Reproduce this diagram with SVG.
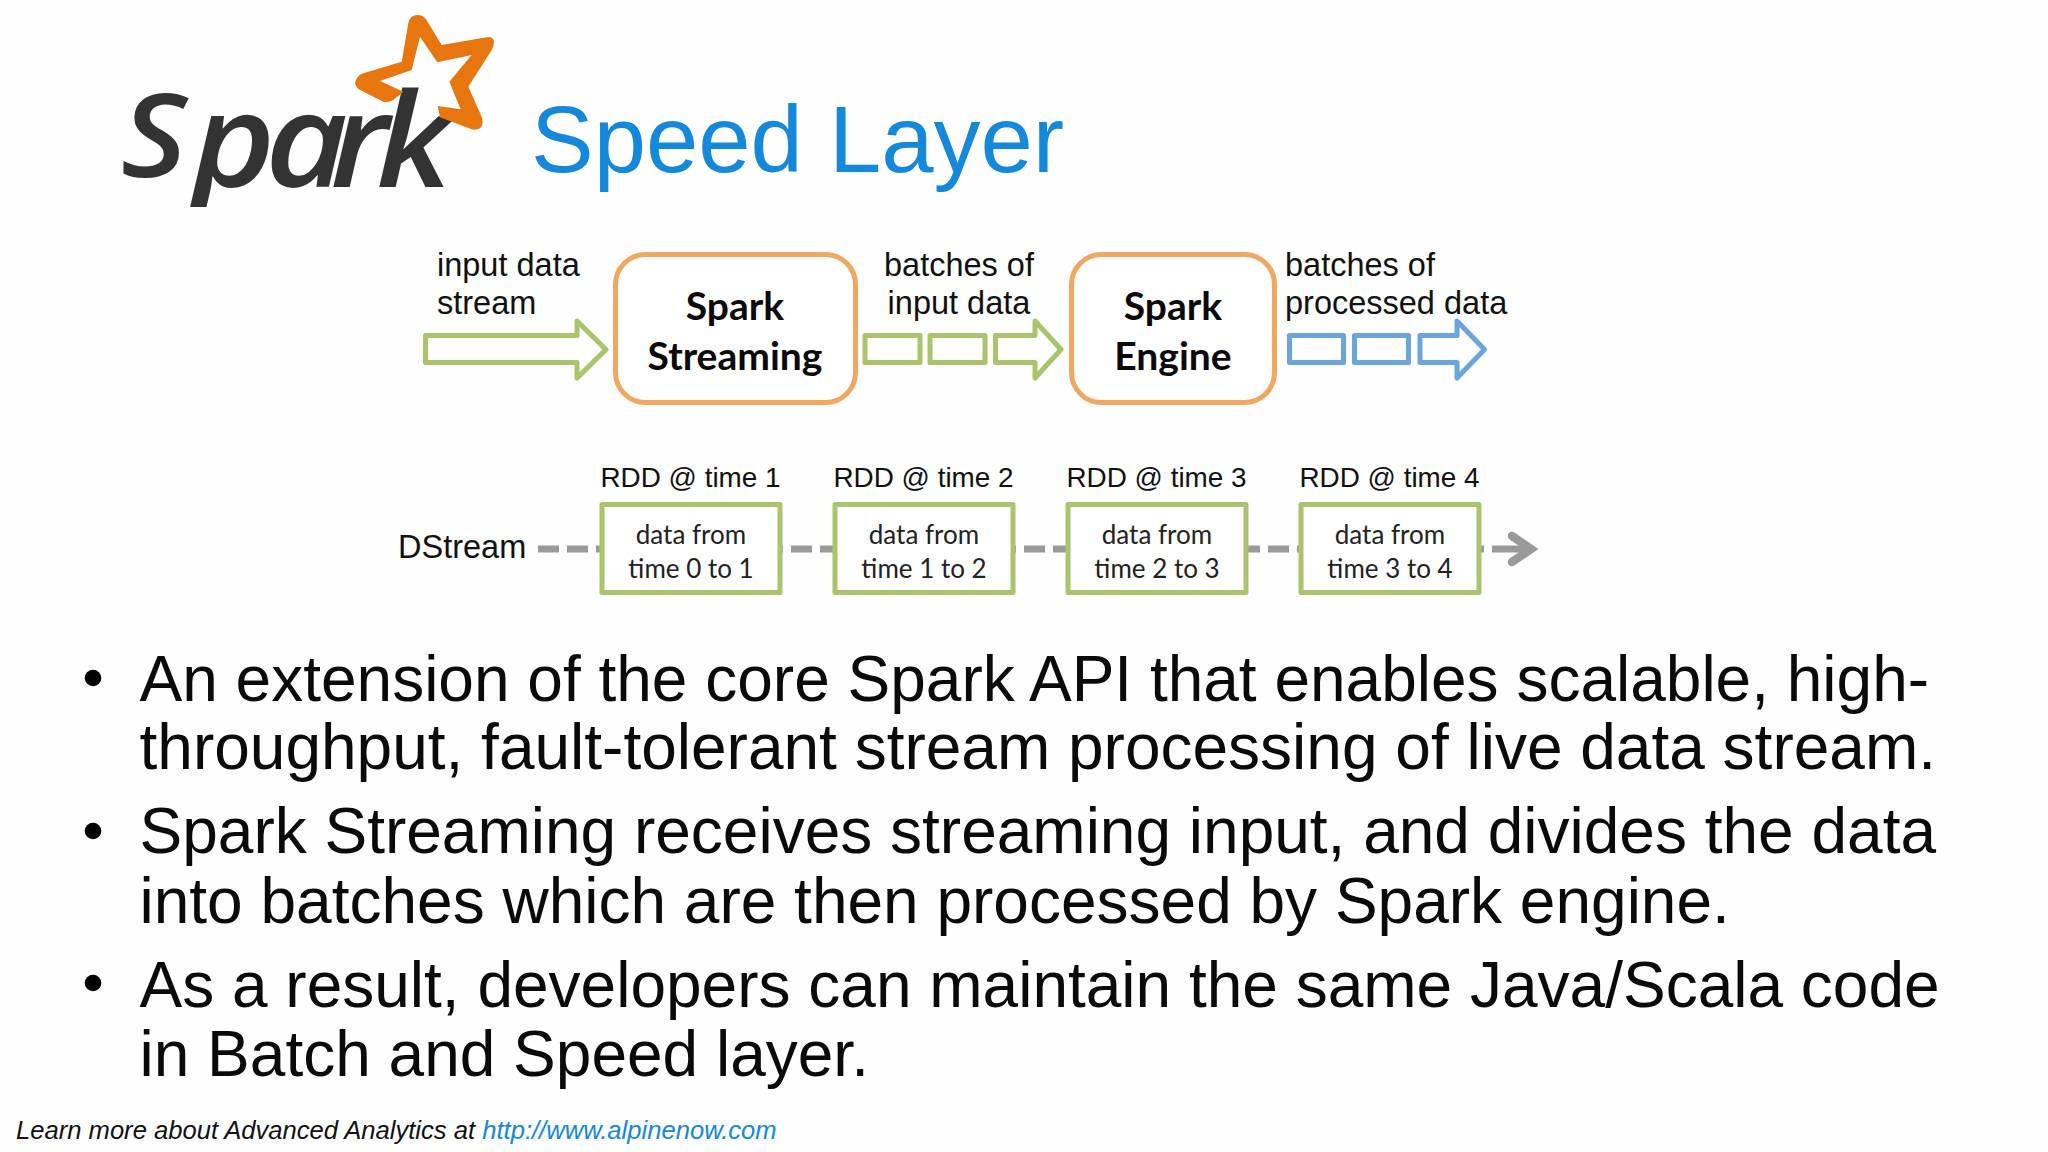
<svg xmlns="http://www.w3.org/2000/svg" width="2048" height="1152" viewBox="0 0 2048 1152">
<defs>
<marker id="chev" markerUnits="userSpaceOnUse" markerWidth="40" markerHeight="40" refX="24" refY="20" orient="auto"><path d="M5,7 L24,20 L5,33" fill="none" stroke="#9a9a9a" stroke-width="8.500" stroke-linecap="round" stroke-linejoin="miter"/></marker>
<clipPath id="logoclip"><rect x="100" y="80" width="400" height="127"/></clipPath>
</defs>
<style>
text{font-family:"Liberation Sans",Arial,sans-serif;fill:#111}
.title{font-size:94px;fill:#1488DB}
.body{font-size:64px;fill:#0a0a0a}
.lab{font-size:32.500px}
.rdd{font-size:27.900px}
.cal{font-family:Lato,"Open Sans",sans-serif;text-anchor:middle}
.eng{font-size:39px;font-weight:700;fill:#0a0a0a}
.dat{font-size:26px;fill:#222}
.orange{fill:#fff;stroke:#F0A75F;stroke-width:5}
.green{fill:#fff;stroke:#A9C46C;stroke-width:5;stroke-linejoin:round}
.blue{fill:#fff;stroke:#6CA5DC;stroke-width:5;stroke-linejoin:round}
.dash{fill:none;stroke:#9a9a9a;stroke-width:7;stroke-dasharray:21 8}
.foot{font-size:25.600px;font-style:italic}
.logo{font-family:"Open Sans",sans-serif;font-style:italic;font-weight:600;fill:#333}
</style>
<rect width="2048" height="1152" fill="#fefefe"/>
<g id="logo">
<g clip-path="url(#logoclip)"><text class="logo" transform="scale(1.1,1)" font-size="130"><tspan font-size="116" x="110" y="177">S</tspan><tspan x="174 241 300 341.800" y="187">park</tspan></text></g>
<path d="M408.3,23.3 Q410,15 417.3,15 Q423,15 426,19.3 L441.7,45 L486.7,37.3 Q493,36 494,41.7 Q494,46 491.7,50 L468.3,86.7 L481.7,116.7 Q484,125 480,128.3 Q476,130.5 471.7,129.3 L440,117.3 L437.7,106 L460.7,109.3 L449.3,81.7 L471.7,55 L437.3,62.3 L420,36.7 L411.7,70 L380,81 L403.3,91.7 L393.3,100 Q388,103 383.3,101.7 L360,90 Q353,85 356,80 Q358,75 363.3,73.3 L401.7,61.7 Z" fill="#E8760F"/>
</g>
<text id="title" class="title" x="531" y="171.500">Speed Layer</text>
<g id="connectors">
<line class="dash" x1="538" y1="549" x2="600" y2="549"/>
<line class="dash" x1="762" y1="549" x2="833" y2="549"/>
<line class="dash" x1="995" y1="549" x2="1066" y2="549"/>
<line class="dash" x1="1239" y1="549" x2="1299" y2="549"/>
<line class="dash" x1="1463" y1="549" x2="1513" y2="549"/>
<line x1="1513" y1="549" x2="1531" y2="549" stroke="#9a9a9a" stroke-width="7" marker-end="url(#chev)"/>
</g>
<g id="input-stream">
<path class="green" d="M425.5,335.5 H577 V321 L606,349.5 L577,378 V362.5 H425.5 Z"/>
<text class="lab" x="437" y="276">input data</text>
<text class="lab" x="437" y="314">stream</text>
</g>
<g id="spark-streaming">
<rect class="orange" x="615.500" y="254.500" width="240" height="148" rx="30"/>
<text class="cal eng" x="735" y="320">Spark</text>
<text class="cal eng" x="735" y="369.500">Streaming</text>
</g>
<g id="input-batches">
<text class="lab" x="959" y="276" text-anchor="middle">batches of</text>
<text class="lab" x="959" y="314" text-anchor="middle">input data</text>
<rect class="green" x="865" y="335.500" width="55" height="27"/>
<rect class="green" x="930" y="335.500" width="55" height="27"/>
<path class="green" d="M995.500,335.500 H1035 V321 L1061,349.500 L1035,378 V362.500 H995.500 Z"/>
</g>
<g id="spark-engine">
<rect class="orange" x="1071.500" y="254.500" width="203" height="148" rx="30"/>
<text class="cal eng" x="1173" y="320">Spark</text>
<text class="cal eng" x="1173" y="369.500">Engine</text>
</g>
<g id="output-batches">
<text class="lab" x="1285" y="276">batches of</text>
<text class="lab" x="1285" y="314">processed data</text>
<rect class="blue" x="1289.500" y="335.500" width="54" height="27"/>
<rect class="blue" x="1354.500" y="335.500" width="54" height="27"/>
<path class="blue" d="M1420,335.500 H1457 V321 L1484.500,349.500 L1457,378 V362.500 H1420 Z"/>
</g>
<text id="dstream" class="lab" x="398" y="558">DStream</text>
<g id="rdd1">
<text class="rdd" x="690.500" y="486.500" text-anchor="middle">RDD @ time 1</text>
<rect class="green" x="602" y="504.500" width="178" height="88"/>
<text class="cal dat" x="691" y="543.500">data from</text>
<text class="cal dat" x="691" y="577.500">time 0 to 1</text>
</g>
<g id="rdd2">
<text class="rdd" x="923.500" y="486.500" text-anchor="middle">RDD @ time 2</text>
<rect class="green" x="835" y="504.500" width="178" height="88"/>
<text class="cal dat" x="924" y="543.500">data from</text>
<text class="cal dat" x="924" y="577.500">time 1 to 2</text>
</g>
<g id="rdd3">
<text class="rdd" x="1156.500" y="486.500" text-anchor="middle">RDD @ time 3</text>
<rect class="green" x="1068" y="504.500" width="178" height="88"/>
<text class="cal dat" x="1157" y="543.500">data from</text>
<text class="cal dat" x="1157" y="577.500">time 2 to 3</text>
</g>
<g id="rdd4">
<text class="rdd" x="1389.500" y="486.500" text-anchor="middle">RDD @ time 4</text>
<rect class="green" x="1301" y="504.500" width="178" height="88"/>
<text class="cal dat" x="1390" y="543.500">data from</text>
<text class="cal dat" x="1390" y="577.500">time 3 to 4</text>
</g>
<g id="bullets">
<circle cx="93" cy="678" r="8.300" fill="#000"/>
<circle cx="93" cy="831" r="8.300" fill="#000"/>
<circle cx="93" cy="983" r="8.300" fill="#000"/>
<text class="body" x="139.500" y="700.500">An extension of the core Spark API that enables scalable, high-</text>
<text class="body" x="139.500" y="768.500">throughput, fault-tolerant stream processing of live data stream.</text>
<text class="body" x="139.500" y="853">Spark Streaming receives streaming input, and divides the data</text>
<text class="body" x="139.500" y="922.500">into batches which are then processed by Spark engine.</text>
<text class="body" x="139.500" y="1006.500">As a result, developers can maintain the same Java/Scala code</text>
<text class="body" x="139.500" y="1075.500">in Batch and Speed layer.</text>
</g>
<text id="footer" class="foot" x="16" y="1139">Learn more about Advanced Analytics at <tspan fill="#1488DB">http://www.alpinenow.com</tspan></text>
</svg>
